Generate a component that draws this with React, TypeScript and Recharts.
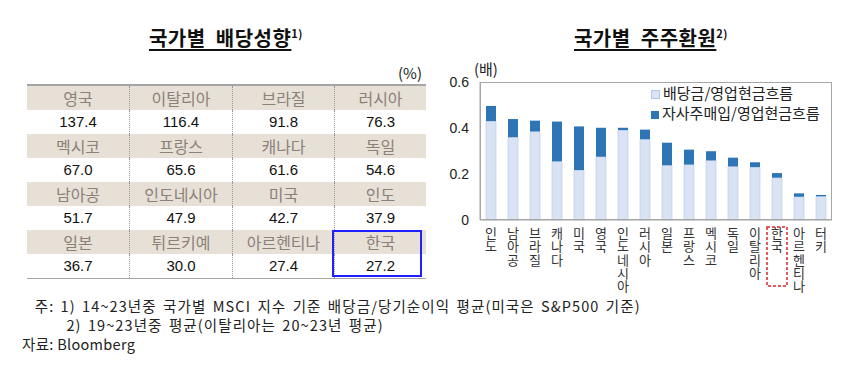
import React from 'react';
import { BarChart, Bar, XAxis, YAxis } from 'recharts';

// 국가별 주주환원 (stacked bars)
const countries = ['인도', '남아공', '브라질', '캐나다', '미국', '영국', '인도네시아', '러시아', '일본', '프랑스', '멕시코', '독일', '이탈리아', '한국', '아르헨티나', '터키'];
const dividendRatio = [0.43, 0.36, 0.385, 0.255, 0.217, 0.275, 0.391, 0.351, 0.238, 0.241, 0.259, 0.233, 0.23, 0.184, 0.101, 0.103];
const buybackRatio = [0.066, 0.079, 0.047, 0.173, 0.19, 0.126, 0.01, 0.042, 0.098, 0.065, 0.04, 0.038, 0.021, 0.02, 0.015, 0.006];
const yTicks = [0, 0.2, 0.4, 0.6];

// 국가별 배당성향 (table)
const payoutCountries = ['영국', '이탈리아', '브라질', '러시아', '멕시코', '프랑스', '캐나다', '독일', '남아공', '인도네시아', '미국', '인도', '일본', '튀르키예', '아르헨티나', '한국'];
const payoutValues = [137.4, 116.4, 91.8, 76.3, 67.0, 65.6, 61.6, 54.6, 51.7, 47.9, 42.7, 37.9, 36.7, 30.0, 27.4, 27.2];

const chartData = countries.map((name, i) => ({
  name,
  dividend: dividendRatio[i],
  buyback: buybackRatio[i],
}));

const KR = '"Noto Sans CJK KR", "Noto Sans", sans-serif';
const LIGHT = '#dae3f3';
const DARK = '#2e75b6';

const CountryTick = ({ x, y, payload }: any) => {
  const chars = String(payload.value).split('');
  return (
    <g>
      {chars.map((c, i) => (
        <text key={i} x={x} y={y + 10 + i * 13.3} textAnchor="middle" fontSize={13} fill="#333" fontFamily={KR}>
          {c}
        </text>
      ))}
      {payload.value === '한국' && (
        <rect x={x - 10} y={y - 1} width={20} height={59} fill="none" stroke="#e02525" strokeWidth={1.5} strokeDasharray="3 2" />
      )}
    </g>
  );
};

const Title = ({ text, note, left, width }: { text: string; note: string; left: number; width: number }) => (
  <div style={{ position: 'absolute', left, top: 20, width, textAlign: 'center', fontFamily: KR, fontWeight: 700, fontSize: 20, letterSpacing: 0.5, color: '#111', lineHeight: '26px', whiteSpace: 'pre' }}>
    <span style={{ textDecoration: 'underline', textUnderlineOffset: 3 }}>{text}</span>
    <sup style={{ fontSize: 11 }}>{note}</sup>
  </div>
);

const colWidths = [102, 102, 101, 91];

const PayoutTable = () => {
  const rows: number[][] = [];
  for (let i = 0; i < payoutCountries.length; i += 4) rows.push([i, i + 1, i + 2, i + 3]);
  return (
    <table style={{ position: 'absolute', left: 27, top: 84, borderCollapse: 'collapse', borderTop: '2px solid #a6a6a6', borderBottom: '1px solid #a6a6a6', tableLayout: 'fixed' }}>
      <tbody>
        {rows.map((r, ri) => (
          <React.Fragment key={ri}>
            <tr style={{ height: 24 }}>
              {r.map((idx, ci) => (
                <td key={ci} style={{
                  width: colWidths[ci], padding: 0, textAlign: 'center', background: '#e6e0d7', color: '#8c8177',
                  fontFamily: KR, fontSize: 16, lineHeight: '24px',
                  borderLeft: ci > 0 ? '1px dotted #999' : 'none',
                }}>{payoutCountries[idx]}</td>
              ))}
            </tr>
            <tr style={{ height: 24 }}>
              {r.map((idx, ci) => (
                <td key={ci} style={{
                  width: colWidths[ci], padding: 0, textAlign: 'center', color: '#111',
                  fontFamily: '"Liberation Sans", Arial, sans-serif', fontSize: 15, lineHeight: '24px',
                  borderLeft: ci > 0 ? '1px dotted #999' : 'none',
                }}>{payoutValues[idx].toFixed(1)}</td>
              ))}
            </tr>
          </React.Fragment>
        ))}
      </tbody>
    </table>
  );
};

const App = () => {
  return (
    <div style={{ position: 'absolute', left: 0, top: 0, width: 860, height: 374, background: '#fff', overflow: 'hidden' }}>
      <Title text="국가별  배당성향" note="1)" left={26} width={400} />
      <Title text="국가별  주주환원" note="2)" left={451} width={400} />

      <div style={{ position: 'absolute', left: 398, top: 62, fontFamily: KR, fontSize: 15, color: '#222' }}>(%)</div>
      <PayoutTable />
      <div style={{ position: 'absolute', left: 332, top: 230, width: 90, height: 47, border: '2px solid #1f1fff', boxSizing: 'border-box' }} />

      <div style={{ position: 'absolute', left: 440, top: 60 }}>
        <BarChart width={400} height={240} data={chartData} margin={{ top: 22, right: 8, left: 0, bottom: 0 }}>
          <XAxis dataKey="name" height={80} interval={0} tickLine={false} axisLine={{ stroke: '#a6a6a6' }} tick={<CountryTick />} />
          <YAxis domain={[0, 0.6]} ticks={yTicks} width={40} tickLine={false} axisLine={{ stroke: '#a6a6a6' }}
            tickMargin={5} tickFormatter={(v: number) => (v === 0 ? '0' : v.toFixed(1))}
            tick={{ fontSize: 14, fill: '#222', fontFamily: '"Liberation Sans", Arial, sans-serif' }} />
          <Bar dataKey="dividend" stackId="a" fill={LIGHT} stroke="#b4c7e7" strokeWidth={0.6} barSize={10} isAnimationActive={false} />
          <Bar dataKey="buyback" stackId="a" fill={DARK} barSize={10} isAnimationActive={false} />
        </BarChart>
      </div>
      <div style={{ position: 'absolute', left: 480, top: 82, width: 352, height: 138, border: '1px solid #a6a6a6', boxSizing: 'border-box', pointerEvents: 'none' }} />
      <div style={{ position: 'absolute', left: 474, top: 61, fontFamily: KR, fontSize: 15, color: '#222', lineHeight: '16px' }}>(배)</div>

      <div style={{ position: 'absolute', left: 651, top: 83, fontFamily: KR, fontSize: 15, color: '#222', lineHeight: '20px' }}>
        <div><span style={{ display: 'inline-block', width: 7, height: 7, background: LIGHT, border: '1px solid #b4c7e7', marginRight: 3 }} />배당금/영업현금흐름</div>
        <div><span style={{ display: 'inline-block', width: 8, height: 8, background: DARK, marginRight: 3 }} />자사주매입/영업현금흐름</div>
      </div>

      <div style={{ position: 'absolute', left: 22, top: 296, fontFamily: KR, fontSize: 14.5, letterSpacing: 1.1, wordSpacing: 2, color: '#222', lineHeight: '19px', whiteSpace: 'pre' }}>
        <div>{'  주: 1) 14~23년중 국가별 MSCI 지수 기준 배당금/당기순이익 평균(미국은 S&P500 기준)'}</div>
        <div>{'       2) 19~23년중 평균(이탈리아는 20~23년 평균)'}</div>
        <div style={{ letterSpacing: 0.3, wordSpacing: 0 }}>자료: Bloomberg</div>
      </div>
    </div>
  );
};

export default App;
